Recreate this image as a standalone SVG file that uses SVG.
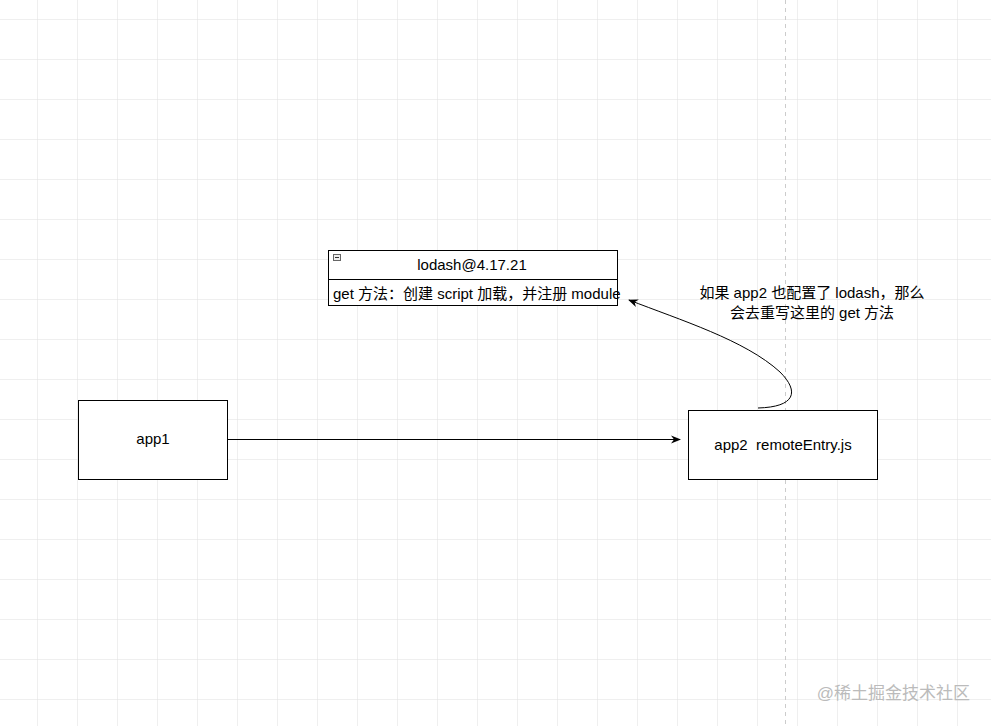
<svg xmlns="http://www.w3.org/2000/svg" width="991" height="726" viewBox="0 0 991 726">
<defs>
<pattern id="g" x="37" y="19" width="40" height="40" patternUnits="userSpaceOnUse">
<path d="M0 0H40M0 0V40" stroke="#e0e0e0" stroke-width="1" fill="none"/>
</pattern>
<marker id="a" markerWidth="10" markerHeight="10" refX="9" refY="5" orient="auto" markerUnits="userSpaceOnUse">
<path d="M0 1L10 5L0 9L3 5Z" fill="#000"/>
</marker>
<style>
.b{fill:#fff;stroke:#000;stroke-width:1}
.t{font-family:"Liberation Sans","Noto Sans CJK SC",sans-serif;font-size:15px;fill:#000}
.c{stroke:#000;fill:none;stroke-width:1}
</style>
</defs>
<rect width="991" height="726" fill="#fff"/>
<rect width="991" height="726" fill="url(#g)"/>
<line x1="785.5" y1="0" x2="785.5" y2="726" stroke="#ccc" stroke-dasharray="4 4"/>
<g id="lodash">
<rect class="b" x="328.5" y="250.5" width="289" height="55"/>
<line x1="328.5" y1="279.5" x2="617.5" y2="279.5" stroke="#000"/>
<rect x="333.5" y="254.5" width="7" height="6" fill="#eee" stroke="#666"/>
<line x1="335" y1="257.5" x2="339" y2="257.5" stroke="#333"/>
<text class="t" x="472" y="270" text-anchor="middle" font-size="13">lodash@4.17.21</text>
<text class="t" x="333" y="299" font-size="13">get 方法：创建 script 加载，并注册 module</text>
</g>
<g id="app1">
<rect class="b" x="78.5" y="400.5" width="149" height="79"/>
<text class="t" x="153" y="444" text-anchor="middle" font-size="16">app1</text>
</g>
<g id="app2">
<rect class="b" x="688.5" y="410.5" width="189" height="69"/>
<text class="t" x="783" y="450" text-anchor="middle" font-size="16" xml:space="preserve">app2  remoteEntry.js</text>
</g>
<g id="connectors">
<line class="c" x1="228" y1="439.5" x2="680" y2="439.5" marker-end="url(#a)"/>
<path class="c" d="M758 408 C795 407 800 392 780 372 C745 340 680 320 629 300" marker-end="url(#a)"/>
</g>
<g id="label">
<text class="t" x="812" y="298" text-anchor="middle">如果 app2 也配置了 lodash，那么</text>
<text class="t" x="812" y="318" text-anchor="middle">会去重写这里的 get 方法</text>
</g>
<text x="970" y="699" text-anchor="end" font-family="Liberation Sans,Noto Sans CJK SC,sans-serif" font-size="17" fill="#bbb">@稀土掘金技术社区</text>
</svg>
